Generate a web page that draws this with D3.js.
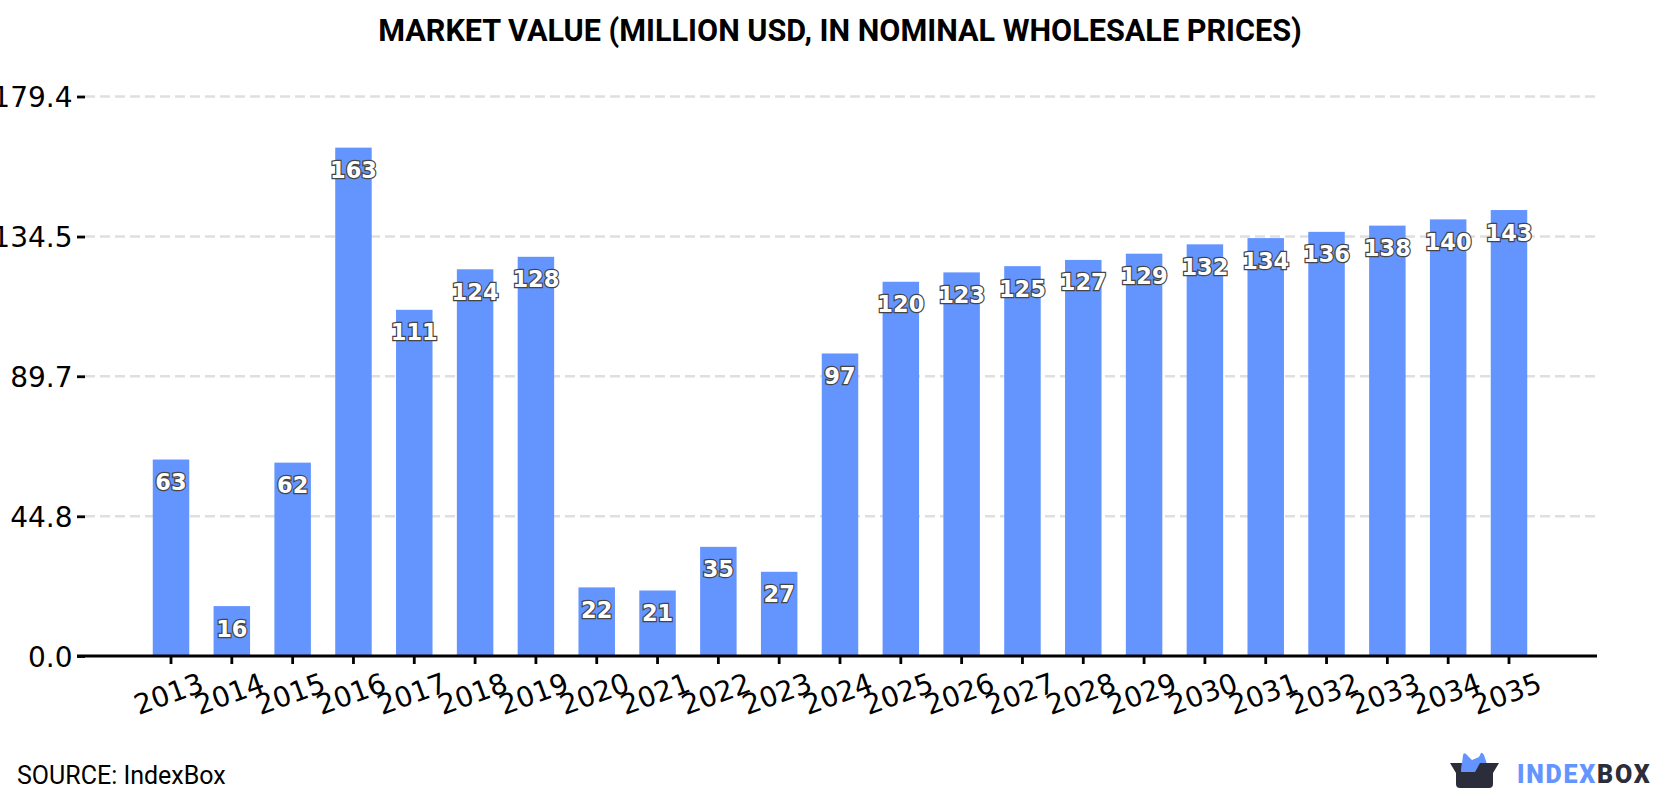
<!DOCTYPE html>
<html>
<head>
<meta charset="utf-8">
<script src="https://cdn.jsdelivr.net/npm/d3@7"></script>
<style>
  html, body { margin: 0; padding: 0; background: #fff; }
  svg { display: block; }
  .title { font: 700 30.6px Roboto, sans-serif; fill: #000; }
  .source { font: 400 25px Roboto, sans-serif; fill: #000; }
  .tick-label { font: 400 28px "DejaVu Sans", sans-serif; fill: #000; }
  .value { font: 700 22.5px "DejaVu Sans", sans-serif; fill: #fff; stroke: #444; stroke-width: 2.4px; paint-order: stroke; }
</style>
</head>
<body>
<svg id="chart" width="1680" height="800"></svg>
<script>
const years = ["2013","2014","2015","2016","2017","2018","2019","2020","2021","2022","2023","2024","2025","2026","2027","2028","2029","2030","2031","2032","2033","2034","2035"];
const marketValue = [63,16,62,163,111,124,128,22,21,35,27,97,120,123,125,127,129,132,134,136,138,140,143];
const yTicks = [0, 44.8, 89.7, 134.5, 179.4];
const titleText = "MARKET VALUE (MILLION USD, IN NOMINAL WHOLESALE PRICES)";
const sourceText = "SOURCE: IndexBox";

const svg = d3.select("#chart");
const plot = { left: 77, right: 1597, bottom: 656, top: 96.5 };

const x = d3.scaleBand().domain(years).range([140.6, 1539.4]).paddingInner(0.4).paddingOuter(0.2);
const y = d3.scaleLinear().domain([0, 179.4]).range([plot.bottom, plot.top]);

svg.append("text").attr("class", "title").attr("x", 840).attr("y", 41).attr("text-anchor", "middle").text(titleText);

// Dashed gridlines above the baseline
svg.append("g").selectAll("line").data(yTicks.slice(1)).join("line")
  .attr("x1", plot.left + 8).attr("x2", plot.right)
  .attr("y1", d => y(d)).attr("y2", d => y(d))
  .attr("stroke", "#dfdfdf").attr("stroke-width", 2.5).attr("stroke-dasharray", "10 5");

// Bars
svg.append("g").selectAll("rect").data(marketValue).join("rect")
  .attr("x", (d, i) => x(years[i]))
  .attr("width", x.bandwidth())
  .attr("y", d => y(d))
  .attr("height", d => y(0) - y(d))
  .attr("fill", "#6495ff");

// Left axis
const yAxis = svg.append("g").attr("transform", `translate(${plot.left + 8},0)`)
  .call(d3.axisLeft(y).tickValues(yTicks).tickFormat(d3.format(".1f")).tickSize(8).tickPadding(4.5));
yAxis.select(".domain").remove();
yAxis.selectAll("line").attr("stroke", "#000").attr("stroke-width", 2.8);
yAxis.selectAll("text").attr("class", "tick-label").attr("dy", "0.36em");

// Bottom axis with tilted year labels
const xAxis = svg.append("g").attr("transform", `translate(0,${plot.bottom})`)
  .call(d3.axisBottom(x).tickSize(8).tickPadding(0));
xAxis.select(".domain").remove();
xAxis.selectAll("line").attr("stroke", "#000").attr("stroke-width", 2.8);
xAxis.selectAll("text")
  .attr("class", "tick-label")
  .attr("text-anchor", "middle")
  .attr("dy", null)
  .attr("y", null)
  .attr("transform", "translate(1,47) rotate(-20)");

svg.append("line").attr("x1", plot.left).attr("x2", plot.right)
  .attr("y1", plot.bottom).attr("y2", plot.bottom)
  .attr("stroke", "#000").attr("stroke-width", 2.8);

// Value labels just below each bar top
svg.append("g").selectAll("text").data(marketValue).join("text")
  .attr("class", "value")
  .attr("text-anchor", "middle")
  .attr("transform", (d, i) => `translate(${x(years[i]) + x.bandwidth() / 2},${y(d) + 30.5})`)
  .text(d => d);

svg.append("text").attr("class", "source").attr("x", 17).attr("y", 784).text(sourceText);

// Brand mark
const logo = svg.append("g");
logo.append("path").attr("fill", "#6495ff")
  .attr("d", "M1461 772 L1463 755 Q1464 752 1466 754 L1472 760 L1479 757 L1481 753 Q1482 752 1484 755 L1487 764 L1475 772 Z");
logo.append("path").attr("fill", "#2b2d3a")
  .attr("d", "M1450 763 L1462 763 L1461 772 L1475 772 L1480 763 L1499 763 L1493 773 L1493 784 Q1493 788 1489 788 L1460 788 Q1456 788 1456 784 L1456 773 Z");
logo.append("text").attr("x", 1517).attr("y", 783)
  .style("font", "900 25px Roboto, sans-serif").style("letter-spacing", "1.75px")
  .call(t => {
    t.append("tspan").attr("fill", "#6495ff").text("INDEX");
    t.append("tspan").attr("fill", "#2b2d3a").text("BOX");
  });
</script>
</body>
</html>
